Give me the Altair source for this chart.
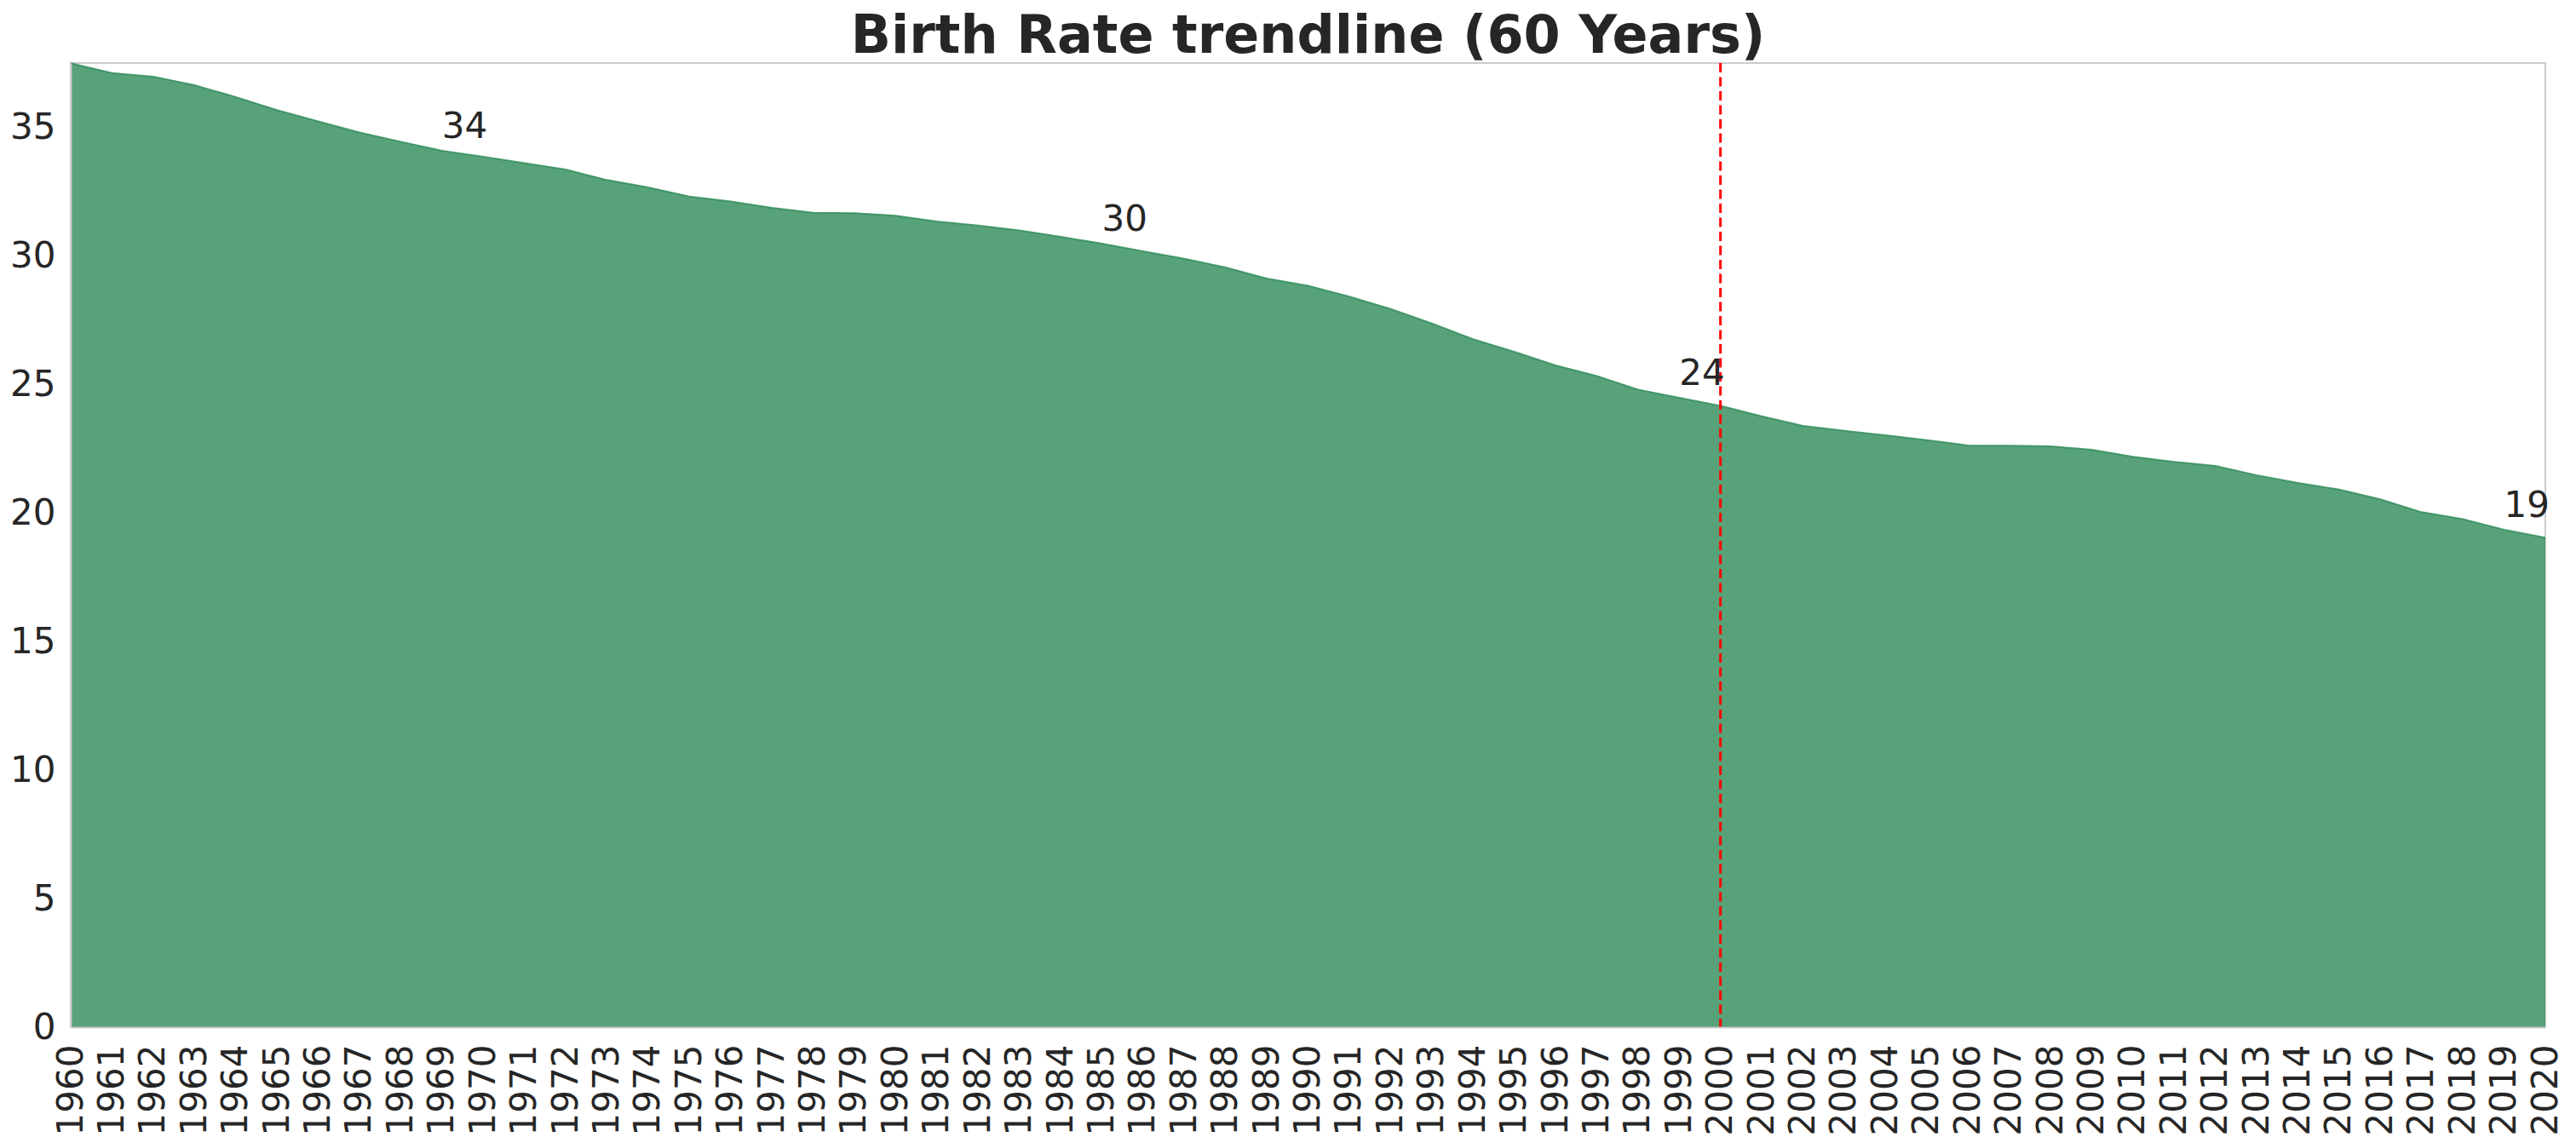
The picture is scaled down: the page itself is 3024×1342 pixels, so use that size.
import altair as alt
import pandas as pd

TEXT_COLOR = "#262626"
FONT = "DejaVu Sans"
W, H = 2905, 1132

years = list(range(1960, 2021))
birth_rate = [
    37.49, 37.11, 36.97, 36.64, 36.18, 35.67, 35.23, 34.80, 34.44, 34.09,
    33.86, 33.61, 33.36, 32.95, 32.66, 32.31, 32.12, 31.87, 31.68, 31.66,
    31.56, 31.34, 31.18, 30.99, 30.74, 30.48, 30.18, 29.89, 29.55, 29.12,
    28.84, 28.42, 27.94, 27.37, 26.76, 26.27, 25.74, 25.33, 24.80, 24.48,
    24.17, 23.76, 23.39, 23.20, 23.02, 22.83, 22.63, 22.62, 22.59, 22.46,
    22.19, 21.99, 21.83, 21.47, 21.17, 20.91, 20.53, 20.03, 19.76, 19.35,
    19.04,
]
label_years = [1969, 1985, 1999, 2019]
marker_year = 2000
title_text = "Birth Rate trendline (60 Years)"

df = pd.DataFrame({"year": years, "rate": birth_rate})
labels = df[df["year"].isin(label_years)]

x = alt.X("year:Q").scale(domain=[1960, 2020], nice=False, zero=False).axis(
    values=years, format="d", labelAngle=270, labelAlign="right",
    labelBaseline="middle", labelPadding=20, ticks=False, grid=False,
    domainColor="#cccccc", domainWidth=2, zindex=1,
).title(None)

y = alt.Y("rate:Q").scale(domain=[0, 37.5], nice=False).axis(
    values=[0, 5, 10, 15, 20, 25, 30, 35], labelPadding=18, ticks=False,
    grid=False, domainColor="#cccccc", domainWidth=2, zindex=1,
).title(None)

area = alt.Chart(df).mark_area(
    color="seagreen", opacity=0.8,
    line={"color": "seagreen", "opacity": 0.8, "strokeWidth": 2},
).encode(x, y)

# annotations sit half a unit above the point, left-aligned on the year
text = alt.Chart(labels).transform_calculate(
    ty="datum.rate + 0.5", txt="format(floor(datum.rate), 'd')"
).mark_text(
    align="left", baseline="alphabetic", fontSize=42, font=FONT, color=TEXT_COLOR
).encode(
    x="year:Q", y="ty:Q", text="txt:N"
)

vline = alt.Chart().mark_rule(
    color="red", strokeWidth=3, strokeDash=[11, 5.5]
).encode(x=alt.datum(marker_year))

title = alt.Chart().mark_text(
    text=title_text, fontSize=62, fontWeight="bold", font=FONT,
    color=TEXT_COLOR, align="center", baseline="alphabetic",
).encode(x=alt.value(W / 2), y=alt.value(-12))

chart = (area + vline + text + title).properties(
    width=W,
    height=H,
    autosize=alt.AutoSizeParams(type="none"),
    padding={"left": 75, "top": 66, "right": 26, "bottom": 132},
).configure_view(
    stroke="#cccccc", strokeWidth=2
).configure_axis(
    labelFont=FONT, labelFontSize=42, labelColor=TEXT_COLOR
)

chart.save("out.html", embed_options={"renderer": "svg", "actions": False})
